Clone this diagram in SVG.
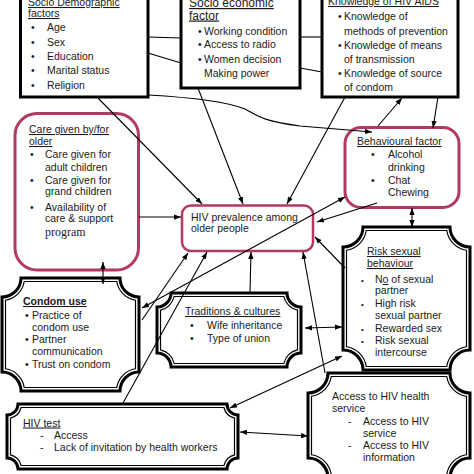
<svg xmlns="http://www.w3.org/2000/svg" width="474" height="474" viewBox="0 0 474 474">
<defs>
<marker id="ah" viewBox="0 0 8 6" refX="8" refY="3" markerWidth="7" markerHeight="5.5" markerUnits="userSpaceOnUse" orient="auto-start-reverse"><path d="M0,0 L8,3 L0,6 z" fill="#000"/></marker>
<style>
text{font-family:"Liberation Sans",Arial,sans-serif;font-size:10.5px;fill:#1a1a1a}
.u{text-decoration:underline}
.b{font-weight:bold}
.ser{font-family:"Liberation Serif","Times New Roman",serif;font-size:12px}
.rect{fill:#fff;stroke:#000;stroke-width:3}
.red{fill:#fff;stroke:#b23a5f;stroke-width:3}
.po{fill:#fff;stroke:#000;stroke-width:3}
.pi{fill:none;stroke:#000;stroke-width:1.2}
.c{fill:none;stroke:#000;stroke-width:1.1}
.e{marker-end:url(#ah)}
.d{marker-start:url(#ah);marker-end:url(#ah)}
</style>
</defs>
<rect width="474" height="474" fill="#fff"/>

<g id="socio-demographic">
<rect class="rect" x="20.5" y="-10" width="127.5" height="107"/>
<text x="28" y="6" class="u">Socio Demographic</text>
<text x="28" y="17" class="u">factors</text>
<text x="31" y="31">•</text><text x="47" y="31">Age</text>
<text x="31" y="45.5">•</text><text x="47" y="45.5">Sex</text>
<text x="31" y="60">•</text><text x="47" y="60">Education</text>
<text x="31" y="74">•</text><text x="47" y="74">Marital status</text>
<text x="31" y="88.5">•</text><text x="47" y="88.5">Religion</text>
</g>

<g id="socio-economic">
<rect class="rect" x="181" y="-10" width="119" height="98"/>
<text x="189" y="7" class="u" style="font-size:12px">Socio economic</text>
<text x="189" y="19.5" class="u" style="font-size:12px">factor</text>
<text x="198" y="35">•</text><text x="204" y="35">Working condition</text>
<text x="198" y="48">•</text><text x="204" y="48">Access to radio</text>
<text x="198" y="63">•</text><text x="204" y="63">Women decision</text>
<text x="204" y="77">Making power</text>
</g>

<g id="knowledge">
<rect class="rect" x="322" y="-10" width="136" height="107"/>
<text x="328" y="5" class="u">Knowledge of HIV AIDS</text>
<text x="338" y="20">•</text><text x="344" y="20">Knowledge of</text>
<text x="344" y="35">methods of prevention</text>
<text x="338" y="49">•</text><text x="344" y="49">Knowledge of means</text>
<text x="344" y="63">of transmission</text>
<text x="338" y="77">•</text><text x="344" y="77">Knowledge of source</text>
<text x="344" y="91">of condom</text>
</g>

<g id="care">
<rect class="red" x="15" y="113.5" width="123.5" height="156.5" rx="22"/>
<text x="29" y="133" class="u">Care given by/for</text>
<text x="29" y="145" class="u">older</text>
<text x="30" y="158">•</text><text x="45" y="158">Care given for</text>
<text x="45" y="170.5">adult children</text>
<text x="30" y="183.5">•</text><text x="45" y="183.5">Care given for</text>
<text x="45" y="195">grand children</text>
<text x="30" y="210.5">•</text><text x="45" y="210.5">Availability of</text>
<text x="45" y="222">care &amp; support</text>
<text x="45" y="236" class="ser">program</text>
</g>

<g id="behavioural">
<rect class="red" x="345" y="127.5" width="114" height="80" rx="16"/>
<text x="357" y="145" class="u">Behavioural factor</text>
<text x="371" y="158">•</text><text x="388" y="158">Alcohol</text>
<text x="388" y="170.5">drinking</text>
<text x="371" y="183.5">•</text><text x="388" y="183.5">Chat</text>
<text x="388" y="195.5">Chewing</text>
</g>

<g id="hiv-prevalence">
<rect x="182" y="205.5" width="131" height="45.5" rx="9" fill="#fff" stroke="#b23a5f" stroke-width="2.5"/>
<text x="191" y="221">HIV prevalence among</text>
<text x="191" y="232">older people</text>
</g>

<g id="condom-use">
<path class="po" d="M21,278 H120 A19 19 0 0 0 139,297 V372 A19 19 0 0 0 120,391 H21 A19 19 0 0 0 2,372 V297 A19 19 0 0 0 21,278 Z"/>
<path class="pi" d="M24.23,281.5 H116.77 A22.5 22.5 0 0 0 135.5,300.23 V368.77 A22.5 22.5 0 0 0 116.77,387.5 H24.23 A22.5 22.5 0 0 0 5.5,368.77 V300.23 A22.5 22.5 0 0 0 24.23,281.5 Z"/>
<text x="23" y="305" class="u b">Condom use</text>
<text x="25" y="319">•</text><text x="32" y="319">Practice of</text>
<text x="32" y="331">condom use</text>
<text x="25" y="343">•</text><text x="32" y="343">Partner</text>
<text x="32" y="355">communication</text>
<text x="25" y="367.5">•</text><text x="32" y="367.5">Trust on condom</text>
</g>

<g id="traditions">
<path class="po" d="M171,293 H287 A14 14 0 0 0 301,307 V353 A14 14 0 0 0 287,367 H171 A14 14 0 0 0 157,353 V307 A14 14 0 0 0 171,293 Z"/>
<path class="pi" d="M174.15,296.5 H283.85 A17.5 17.5 0 0 0 297.5,310.15 V349.850 A17.5 17.5 0 0 0 283.85,363.5 H174.15 A17.5 17.5 0 0 0 160.5,349.85 V310.15 A17.5 17.5 0 0 0 174.15,296.5 Z"/>
<text x="185" y="315" class="u">Traditions &amp; cultures</text>
<text x="190" y="329">•</text><text x="207" y="329">Wife inheritance</text>
<text x="190" y="342">•</text><text x="207" y="342">Type of union</text>
</g>

<g id="risk-sexual">
<path class="po" d="M363,227 H450 A20 20 0 0 0 470,247 V350 A20 20 0 0 0 450,370 H363 A20 20 0 0 0 343,350 V247 A20 20 0 0 0 363,227 Z"/>
<path class="pi" d="M366.24,230.5 H446.76 A23.5 23.5 0 0 0 466.5,250.24 V346.76 A23.5 23.5 0 0 0 446.76,366.5 H366.24 A23.5 23.5 0 0 0 346.5,346.76 V250.24 A23.5 23.5 0 0 0 366.24,230.5 Z"/>
<text x="367" y="255" class="u">Risk sexual</text>
<text x="367" y="267" class="u">behaviour</text>
<text x="361" y="283" style="font-size:8px">•</text><text x="375" y="283">N<tspan class="u">o</tspan> of sexual</text>
<text x="375" y="294">partner</text>
<text x="361" y="307" style="font-size:8px">•</text><text x="375" y="307">High risk</text>
<text x="375" y="319">sexual partner</text>
<text x="361" y="332" style="font-size:8px">•</text><text x="375" y="332">Rewarded sex</text>
<text x="361" y="344" style="font-size:8px">•</text><text x="375" y="344">Risk sexual</text>
<text x="375" y="356">intercourse</text>
</g>

<g id="access">
<path class="po" d="M328,373 H450 A20 20 0 0 0 470,393 V458 A20 20 0 0 0 450,478 H328 A20 20 0 0 0 308,458 V393 A20 20 0 0 0 328,373 Z"/>
<path class="pi" d="M331.24,376.5 H446.76 A23.5 23.5 0 0 0 466.5,396.24 V454.76 A23.5 23.5 0 0 0 446.76,474.5 H331.24 A23.5 23.5 0 0 0 311.5,454.76 V396.24 A23.5 23.5 0 0 0 331.24,376.5 Z"/>
<text x="332" y="400">Access to HIV health</text>
<text x="332" y="411.5">service</text>
<text x="348" y="425">-</text><text x="363" y="425">Access to HIV</text>
<text x="363" y="436.5">service</text>
<text x="348" y="449">-</text><text x="363" y="449">Access to HIV</text>
<text x="363" y="460.5">information</text>
</g>

<g id="hiv-test">
<path class="po" d="M18,404 H227 A11 11 0 0 0 238,415 V458 A11 11 0 0 0 227,469 H18 A11 11 0 0 0 7,458 V415 A11 11 0 0 0 18,404 Z"/>
<path class="pi" d="M21.07,407.5 H223.93 A14.5 14.5 0 0 0 234.5,418.07 V454.93 A14.5 14.5 0 0 0 223.93,465.5 H21.07 A14.5 14.5 0 0 0 10.5,454.93 V418.07 A14.5 14.5 0 0 0 21.07,407.5 Z"/>
<text x="23" y="426.5" class="u">HIV test</text>
<text x="40" y="439">-</text><text x="54" y="439">Access</text>
<text x="40" y="450.5">-</text><text x="54" y="450.5">Lack of invitation by health workers</text>
</g>

<g id="connectors">
<line class="c" x1="148" y1="37" x2="181" y2="38"/>
<line class="c" x1="148" y1="53" x2="181" y2="63"/>
<line class="c" x1="300" y1="37" x2="322" y2="37"/>
<line class="c" x1="300" y1="68" x2="322" y2="72"/>
<path class="c e" d="M148,95 Q220,99 245,109 C258,116 262,121 300,126 L372,132"/>
<line class="c e" x1="97" y1="97" x2="202" y2="204"/>
<line class="c e" x1="198" y1="88" x2="243" y2="204"/>
<line class="c e" x1="345" y1="97" x2="287" y2="204"/>
<line class="c e" x1="378" y1="126" x2="402" y2="98"/>
<line class="c e" x1="438" y1="97" x2="433" y2="128"/>
<line class="c e" x1="139" y1="217" x2="181" y2="217"/>
<line class="c d" x1="103" y1="262" x2="103" y2="284"/>
<line class="c e" x1="142" y1="320" x2="188" y2="253"/>
<line class="c d" x1="142" y1="308" x2="345" y2="197"/>
<line class="c e" x1="123" y1="403" x2="207" y2="252"/>
<line class="c e" x1="250" y1="292" x2="251" y2="252"/>
<line class="c e" x1="325" y1="373" x2="303" y2="252"/>
<line class="c e" x1="345" y1="268" x2="315" y2="237"/>
<line class="c e" x1="377" y1="203" x2="317" y2="222"/>
<line class="c d" x1="412" y1="208" x2="412" y2="227"/>
<line class="c d" x1="305" y1="328" x2="342" y2="327"/>
<line class="c d" x1="230" y1="408" x2="342" y2="356"/>
<line class="c d" x1="240" y1="432" x2="308" y2="436"/>
</g>
</svg>
